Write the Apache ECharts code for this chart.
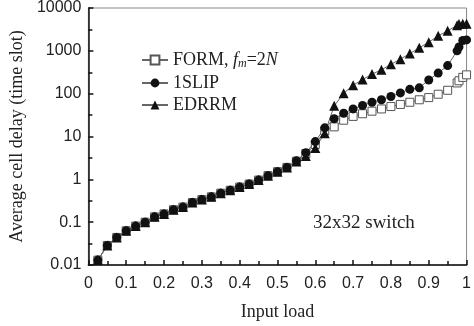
<!DOCTYPE html>
<html>
<head>
<meta charset="utf-8">
<script src="https://cdn.jsdelivr.net/npm/echarts@6/dist/echarts.min.js"></script>
<style>html,body{margin:0;padding:0;background:#fff;}#c{width:474px;height:326px;}</style>
</head>
<body>
<div id="c"></div>
<script>
const loads = [0.025,0.05,0.075,0.1,0.125,0.15,0.175,0.2,0.225,0.25,0.275,0.3,0.325,0.35,0.375,0.4,0.425,0.45,0.475,0.5,0.525,0.55,0.575,0.6,0.625,0.65,0.675,0.7,0.725,0.75,0.775,0.8,0.825,0.85,0.875,0.9,0.925,0.95,0.975,0.98,0.99,1.0];
const formDelay = [0.013,0.0286,0.044,0.063,0.081,0.10,0.133,0.156,0.195,0.225,0.287,0.336,0.39,0.476,0.557,0.66,0.777,0.96,1.22,1.51,1.9,2.65,4.0,6.5,13.5,16.8,24,29.5,34,39,44,50,56,63,72,81,97,120,178,200,240,275];
const slipDelay = [0.013,0.0286,0.044,0.063,0.081,0.10,0.133,0.156,0.195,0.225,0.287,0.336,0.39,0.476,0.557,0.66,0.777,0.96,1.22,1.51,1.9,2.7,4.2,7.6,15.9,26,35,44,53,63,72,86,104,126,137,209,302,452,1000,1230,1740,1800];
const edrrmDelay = [0.013,0.0286,0.044,0.063,0.081,0.10,0.133,0.156,0.195,0.225,0.287,0.336,0.39,0.476,0.557,0.66,0.777,0.96,1.22,1.51,1.9,2.6,3.5,5.4,11.9,52,102,158,213,286,360,484,640,861,1175,1590,2240,2930,3950,4250,4300,4300];
const seriesNames = ['FORM', '1SLIP', 'EDRRM'];
const xTicks = ['0','0.1','0.2','0.3','0.4','0.5','0.6','0.7','0.8','0.9','1'];
const yTicks = ['0.01','0.1','1','10','100','1000','10000'];
const annotation = '32x32 switch';

const pair = arr => loads.map((x, i) => [x, arr[i]]);
const serif = '"Liberation Serif","Times New Roman",serif';
const sans = '"Liberation Sans",Arial,sans-serif';
const lineStyle = { color: '#666', width: 1 };
const tickLine = { color: '#111', width: 1.5 };

const chart = echarts.init(document.getElementById('c'), null, { renderer: 'canvas' });
chart.setOption({
  animation: false,
  backgroundColor: '#fff',
  grid: { left: 77, right: 2, top: 5, bottom: 58, show: true, borderColor: '#888', borderWidth: 1, containLabel: false },
  xAxis: {
    type: 'value', min: 0, max: 1, interval: 0.1,
    name: 'Input load', nameLocation: 'middle', nameGap: 38,
    nameTextStyle: { fontFamily: serif, fontSize: 18, color: '#222' },
    axisLine: { onZero: false, lineStyle: { color: '#111', width: 1.5 } },
    axisTick: { inside: true, length: 5, lineStyle: tickLine },
    minorTick: { show: true, splitNumber: 2, length: 4, lineStyle: tickLine },
    splitLine: { show: false },
    axisLabel: { fontFamily: sans, fontSize: 16, color: '#222', margin: 11,
      formatter: v => xTicks[Math.round(v * 10)] }
  },
  yAxis: [{
    type: 'log', logBase: 10, min: 0.01, max: 10000,
    name: 'Average cell delay (time slot)', nameLocation: 'middle', nameGap: 62,
    nameTextStyle: { fontFamily: serif, fontSize: 18, color: '#222' },
    axisLine: { show: true, onZero: false, lineStyle: { color: '#111', width: 1.5 } },
    axisTick: { show: true, inside: true, length: 5, lineStyle: tickLine },
    minorTick: { show: false },
    splitLine: { show: false },
    axisLabel: { fontFamily: sans, fontSize: 16, color: '#222', margin: 7,
      formatter: v => yTicks[Math.round(Math.log10(v)) + 2] }
  }, {
    type: 'value', min: -2, max: 4, interval: 0.5, position: 'left',
    axisLine: { show: false, onZero: false }, axisLabel: { show: false }, splitLine: { show: false },
    axisTick: { show: true, inside: true, length: 4, lineStyle: tickLine }
  }],
  legend: {
    data: seriesNames, orient: 'vertical', left: 136, top: 46, itemGap: 4,
    itemWidth: 26, itemHeight: 11,
    textStyle: { fontFamily: serif, fontSize: 18, color: '#222',
      rich: {
        it: { fontFamily: serif, fontSize: 18, fontStyle: 'italic', color: '#222' },
        sub: { fontFamily: serif, fontSize: 12, fontStyle: 'italic', color: '#222', padding: [8, 0, 0, 0] },
        t: { fontFamily: serif, fontSize: 18, color: '#222' }
      } },
    formatter: n => n === 'FORM' ? 'FORM, {it|f}{sub|m}{t|=2}{it|N}' : n
  },
  graphic: [{ type: 'text', left: 313, top: 214,
    style: { text: annotation, font: '19px ' + serif, fill: '#222' } }],
  series: [
    { name: 'FORM', type: 'line', data: pair(formDelay), symbol: 'rect', symbolSize: 8,
      itemStyle: { color: '#fff', borderColor: '#555', borderWidth: 1 }, lineStyle },
    { name: '1SLIP', type: 'line', data: pair(slipDelay), symbol: 'circle', symbolSize: 9,
      itemStyle: { color: '#111', borderColor: '#111', borderWidth: 0 }, lineStyle },
    { name: 'EDRRM', type: 'line', data: pair(edrrmDelay), symbol: 'triangle', symbolSize: 10,
      itemStyle: { color: '#111', borderColor: '#111', borderWidth: 0 }, lineStyle }
  ]
});
</script>
</body>
</html>
